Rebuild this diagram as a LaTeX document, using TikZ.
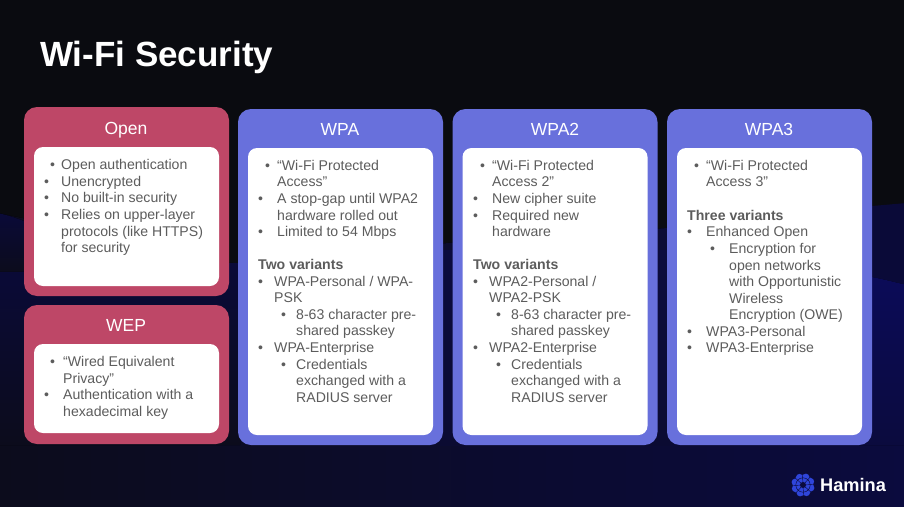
\documentclass[tikz,border=0pt]{standalone}
\usepackage{fontspec}
\setmainfont{Liberation Sans}
\definecolor{bgtop}{HTML}{0A0B10}
\definecolor{bgleft}{HTML}{0C0C1C}
\definecolor{bgright}{HTML}{0B0B3E}
\definecolor{navybright}{HTML}{0A0A38}
\definecolor{navyvivid}{HTML}{0B0B58}
\definecolor{rosecard}{HTML}{BE4767}
\definecolor{bluecard}{HTML}{6870DC}
\definecolor{bodytext}{HTML}{5C5C5C}
\definecolor{logoblue}{HTML}{2F45DA}
\tikzset{
  card/.style={fill=#1,rounded corners=13pt,draw=none},
  panel/.style={fill=white,rounded corners=9pt,draw=none},
  cardtitle/.style={anchor=base,text=white,font=\fontsize{17.5}{20}\selectfont,inner sep=0pt},
  ln/.style={anchor=base west,text=bodytext,font=\fontsize{14.1}{16}\selectfont,inner sep=0pt},
  bl/.style={ln},
  hd/.style={ln,font=\fontsize{14.1}{16}\selectfont\bfseries}
}
\newcommand{\cardbox}[8]{% name,color,x0,y0,x1,y1, panel y0, panel y1
  \fill[card=#2] (#3,#4) rectangle (#5,#6);
  \fill[panel] ({#3+10},#7) rectangle ({#5-10},#8);
}
\begin{document}
\begin{tikzpicture}[x=1pt,y=-1pt]
\useasboundingbox (0,0) rectangle (904,506);
\fill[bgtop] (-3,-3) rectangle (907,509);
% upper wave
\fill[left color=bgleft,right color=bgright] (-3,509) -- (-3,213) .. controls (80,228) and (160,262) .. (233,263) .. controls (320,265) and (390,250) .. (448,243) .. controls (560,232) and (760,228) .. (907,203) -- (907,509) -- cycle;
% navy band at the far left, above the lower wave
\fill[top color=navybright,bottom color=bgleft] (-3,213) .. controls (8,215) and (16,218) .. (24,221) -- (24,272) -- (-3,272) -- cycle;
% lower wave, left side
\fill[top color=navybright,bottom color=bgleft] (-3,272) .. controls (80,272) and (160,263) .. (240,263) -- (240,445) -- (-3,445) -- cycle;
% middle of the band, seen between the cards
\fill[top color=bgright,bottom color=bgleft!35!bgright] (440,250) rectangle (670,445);
% lower wave, right side
\fill[top color=navyvivid,bottom color=bgright] (860,275) .. controls (875,277) and (890,281) .. (907,285) -- (907,445) -- (860,445) -- cycle;
% right band
\fill[navybright] (872,206) -- (907,203) -- (907,285) .. controls (895,282) and (885,279) .. (872,277) -- cycle;

\node[anchor=base west,text=white,font=\fontsize{35}{40}\selectfont\bfseries,inner sep=0pt] (title) at (40,66) {Wi-Fi Security};

\cardbox{open}{rosecard}{24}{107}{229}{296}{147}{286}
\cardbox{wep}{rosecard}{24}{305}{229}{444}{344}{433}
\cardbox{wpa}{bluecard}{238}{109}{443}{445}{148}{435}
\cardbox{wpab}{bluecard}{452.5}{109}{657.5}{445}{148}{435}
\cardbox{wpac}{bluecard}{667}{109}{872}{445}{148}{435}

\node[cardtitle] (t1) at (126,134) {Open};
\node[cardtitle] (t2) at (126,331) {WEP};
\node[cardtitle] (t3) at (340,135) {WPA};
\node[cardtitle] (t4) at (555,135) {WPA2};
\node[cardtitle] (t5) at (769,135) {WPA3};

% Open
\node[bl] (a0) at (50,169) {•}; \node[ln] (a1) at (61,169) {Open authentication};
\node[bl] (a2) at (44,186) {•}; \node[ln] (a3) at (61,186) {Unencrypted};
\node[bl] (a4) at (44,202) {•}; \node[ln] (a5) at (61,202) {No built-in security};
\node[bl] (a6) at (44,219) {•}; \node[ln] (a7) at (61,219) {Relies on upper-layer};
\node[ln] (a8) at (61,236) {protocols (like HTTPS)};
\node[ln] (a9) at (61,252) {for security};
% WEP
\node[bl] (b0) at (50,366) {•}; \node[ln] (b1) at (63,366) {“Wired Equivalent};
\node[ln] (b2) at (63,383) {Privacy”};
\node[bl] (b3) at (44,399) {•}; \node[ln] (b4) at (63,399) {Authentication with a};
\node[ln] (b5) at (63,416) {hexadecimal key};

% WPA
\node[bl] (c0) at (265,170) {•}; \node[ln] (c1) at (277,170) {“Wi-Fi Protected};
\node[ln] (c2) at (277,186) {Access”};
\node[bl] (c3) at (258,203) {•}; \node[ln] (c4) at (277,203) {A stop-gap until WPA2};
\node[ln] (c5) at (277,220) {hardware rolled out};
\node[bl] (c6) at (258,236) {•}; \node[ln] (c7) at (277,236) {Limited to 54 Mbps};
\node[hd] (c8) at (258,269) {Two variants};
\node[bl] (c9) at (258,286) {•}; \node[ln] (c10) at (274,286) {WPA-Personal / WPA-};
\node[ln] (c11) at (274,302) {PSK};
\node[bl] (c12) at (281,319) {•}; \node[ln] (c13) at (296,319) {8-63 character pre-};
\node[ln] (c14) at (296,335) {shared passkey};
\node[bl] (c15) at (258,352) {•}; \node[ln] (c16) at (274,352) {WPA-Enterprise};
\node[bl] (c17) at (281,369) {•}; \node[ln] (c18) at (296,369) {Credentials};
\node[ln] (c19) at (296,385) {exchanged with a};
\node[ln] (c20) at (296,402) {RADIUS server};

% WPA2
\node[bl] (d0) at (480,170) {•}; \node[ln] (d1) at (492,170) {“Wi-Fi Protected};
\node[ln] (d2) at (492,186) {Access 2”};
\node[bl] (d3) at (473,203) {•}; \node[ln] (d4) at (492,203) {New cipher suite};
\node[bl] (d5) at (473,220) {•}; \node[ln] (d6) at (492,220) {Required new};
\node[ln] (d7) at (492,236) {hardware};
\node[hd] (d8) at (473,269) {Two variants};
\node[bl] (d9) at (473,286) {•}; \node[ln] (d10) at (489,286) {WPA2-Personal /};
\node[ln] (d11) at (489,302) {WPA2-PSK};
\node[bl] (d12) at (496,319) {•}; \node[ln] (d13) at (511,319) {8-63 character pre-};
\node[ln] (d14) at (511,335) {shared passkey};
\node[bl] (d15) at (473,352) {•}; \node[ln] (d16) at (489,352) {WPA2-Enterprise};
\node[bl] (d17) at (496,369) {•}; \node[ln] (d18) at (511,369) {Credentials};
\node[ln] (d19) at (511,385) {exchanged with a};
\node[ln] (d20) at (511,402) {RADIUS server};

% WPA3
\node[bl] (e0) at (694,170) {•}; \node[ln] (e1) at (706,170) {“Wi-Fi Protected};
\node[ln] (e2) at (706,186) {Access 3”};
\node[hd] (e3) at (687,220) {Three variants};
\node[bl] (e4) at (687,236) {•}; \node[ln] (e5) at (706,236) {Enhanced Open};
\node[bl] (e6) at (710,253) {•}; \node[ln] (e7) at (729,253) {Encryption for};
\node[ln] (e8) at (729,270) {open networks};
\node[ln] (e9) at (729,286) {with Opportunistic};
\node[ln] (e10) at (729,303) {Wireless};
\node[ln] (e11) at (729,319) {Encryption (OWE)};
\node[bl] (e12) at (687,336) {•}; \node[ln] (e13) at (706,336) {WPA3-Personal};
\node[bl] (e14) at (687,352) {•}; \node[ln] (e15) at (706,352) {WPA3-Enterprise};

% logo: a scalloped, segmented disc
\fill[logoblue] (803,485) circle (10.5);
\foreach \a in {20,65,...,335} \fill[logoblue] (803,485) ++(\a:8.5) circle (3.4);
\fill[bgright] (803,485) circle (3);
\foreach \a in {20,65,...,335} \draw[bgright,line width=0.45pt] (803,485) ++(\a+22:3) -- ++(\a+22:9);
\draw[bgright,line width=0.45pt] (803,485) circle (7.2);
\node[anchor=base west,text=white,font=\fontsize{18.2}{20}\selectfont\bfseries,inner sep=0pt] (brand) at (820,491) {Hamina};
\end{tikzpicture}
\end{document}
